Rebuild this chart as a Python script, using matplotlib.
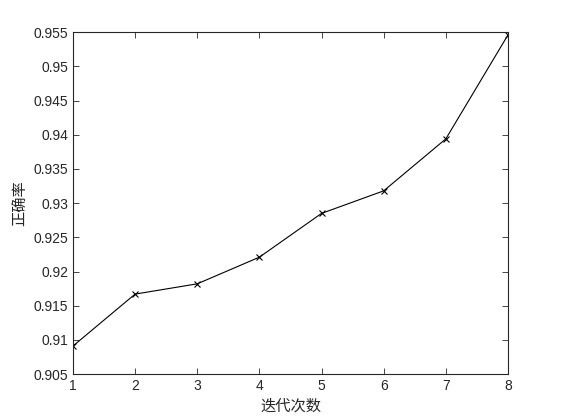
import matplotlib
matplotlib.use('Agg')
import matplotlib.pyplot as plt

iters = [1, 2, 3, 4, 5, 6, 7, 8]
acc = [0.9091, 0.9167, 0.9182, 0.9221, 0.9285, 0.9318, 0.9394, 0.9546]
yticks = [0.905, 0.91, 0.915, 0.92, 0.925, 0.93, 0.935, 0.94, 0.945, 0.95, 0.955]
ytick_labels = ['0.905', '0.91', '0.915', '0.92', '0.925', '0.93', '0.935', '0.94', '0.945', '0.95', '0.955']

plt.rcParams['font.family'] = ['Liberation Sans', 'Noto Sans CJK SC']

fig = plt.figure(figsize=(5.61, 4.18), dpi=100)
ax = fig.add_axes([0.13, 0.105, 0.7755, 0.818])

ax.plot(iters, acc, color='black', linewidth=0.8, marker='x', markersize=5, markeredgewidth=0.8)

ax.set_xlim(1, 8)
ax.set_ylim(0.905, 0.955)
ax.set_xticks(iters)
ax.set_yticks(yticks)
ax.set_yticklabels(ytick_labels)
ax.tick_params(direction='in', top=True, right=True, labelsize=10, length=4, width=0.6, colors='#262626')
for s in ax.spines.values():
    s.set_linewidth(0.8)
    s.set_color('#262626')

ax.set_xlabel('迭代次数', fontsize=11, family=['Noto Sans CJK SC'], color='#262626', labelpad=3)
ax.set_ylabel('正确率', fontsize=11, family=['Noto Sans CJK SC'], color='#262626', labelpad=4)

fig.savefig('out.png', dpi=100)
